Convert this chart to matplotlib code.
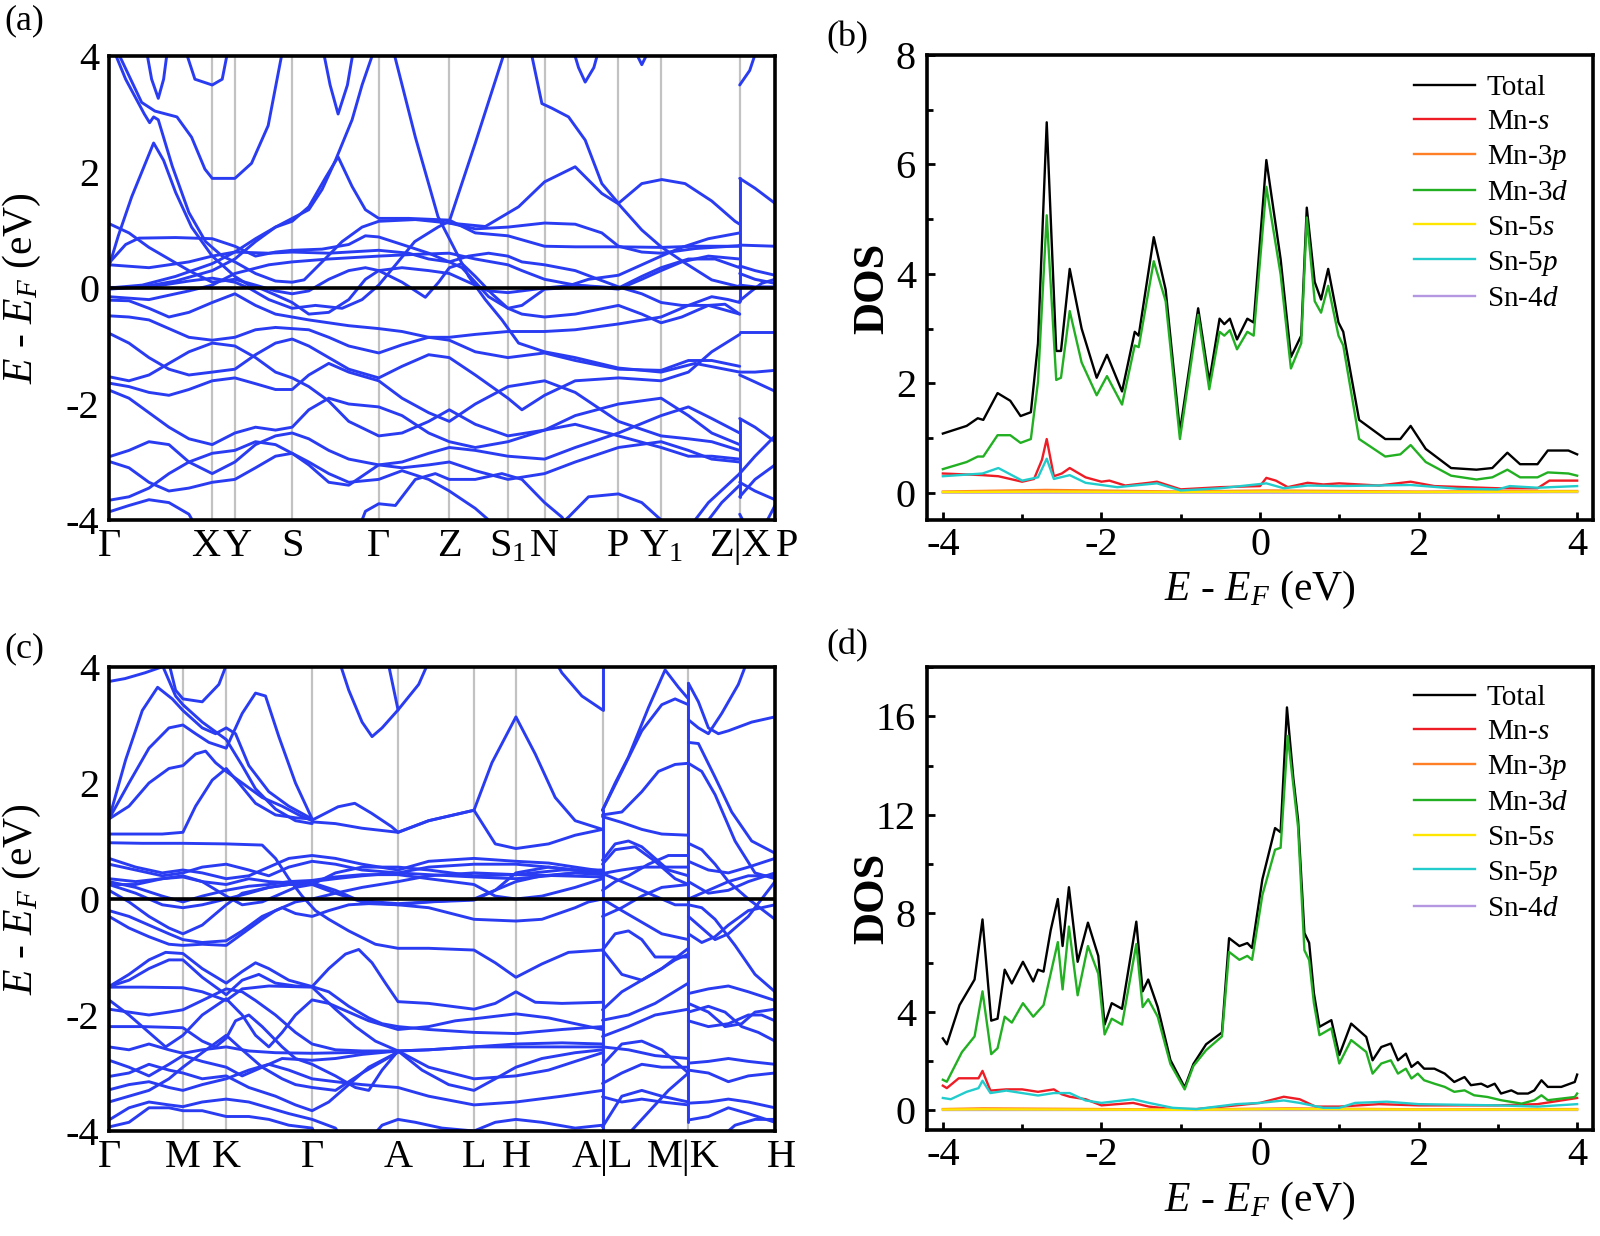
import matplotlib.pyplot as plt
import matplotlib.transforms as mtransforms
from matplotlib.ticker import MultipleLocator

plt.rcParams['font.family'] = 'Liberation Serif'
plt.rcParams['mathtext.fontset'] = 'custom'
plt.rcParams['mathtext.rm'] = 'Liberation Serif'
plt.rcParams['mathtext.it'] = 'Liberation Serif:italic'
plt.rcParams['mathtext.bf'] = 'Liberation Serif:bold'
plt.rcParams['axes.unicode_minus'] = False

BLUE = '#2a3cf2'

# ---------------- (a) band structure, k in % of path, E in eV ----------------
A_TICKS = [0, 15.5, 18.9, 27.5, 40.5, 51.1, 59.9, 65.4, 76.5, 82.9, 94.7, 100]
A_LABELS = ['Γ', 'X', 'Y', 'S', 'Γ', 'Z', r'S$_1$', 'N', 'P', r'Y$_1$', 'Z|X', 'P']
A_BANDS = [
    [(0, 4.4), (1.6, 4.0), (4.9, 3.2), (6.9, 3.05), (10.2, 2.95), (12.4, 2.6), (14.4, 2.05), (15.5, 1.89),
     (18.9, 1.89), (21.4, 2.15), (23.9, 2.8), (25.9, 4.0), (26.5, 4.4)],
    [(5.3, 4.3), (6.4, 3.6), (7.4, 3.27), (8.2, 3.6), (9.0, 4.3)],
    [(10.9, 4.3), (12.9, 3.6), (15.5, 3.5), (17.0, 3.6), (18.2, 4.3)],
    [(31.8, 4.3), (33.2, 3.5), (34.4, 3.0), (35.8, 3.5), (37.0, 4.3)],
    [(69.2, 4.3), (70.5, 3.8), (71.5, 3.55), (72.8, 3.8), (74.0, 4.3)],
    [(78.5, 4.2), (80.0, 3.85), (81.5, 4.2)],
    [(0, 4.3), (2.5, 3.6), (5.3, 3.0), (6.1, 2.85), (6.7, 2.95), (7.4, 2.9), (9.5, 2.1), (12, 1.3), (14.5, 0.8),
     (17, 0.55), (18.9, 0.45), (22, 0.25), (25, 0.12), (27.5, 0.1), (29.3, 0.14), (32, 0.45), (35, 0.8),
     (38, 1.05), (40.5, 1.15), (46, 1.18), (51.1, 1.12), (55, 1.02), (59.9, 1.05), (65.4, 1.12), (70, 1.1),
     (74, 0.95), (76.5, 0.72), (80, 0.62), (82.9, 0.6), (88, 0.68), (94.7, 0.73)],
    [(0, 0.37), (1.4, 0.9), (3.4, 1.57), (6.7, 2.5), (8.2, 2.2), (10, 1.65), (12.4, 1.05), (15.5, 0.55),
     (18.9, 0.2), (21, 0.05), (23, -0.02), (25, -0.12), (27.5, -0.25), (30, -0.45), (33, -0.42), (36, -0.2),
     (38.5, 0.15), (40.5, 0.3), (44, 0.1), (47.5, -0.16), (49.5, 0.1), (51.1, 0.35), (53, 0.42), (55, 0.2),
     (57.5, -0.1), (59.9, -0.35), (62, -0.45), (65.4, -0.5), (70, -0.45), (76.5, -0.3), (80, -0.45),
     (82.9, -0.6), (86, -0.5), (90, -0.3), (92.5, -0.28), (94.7, -0.45)],
    [(42.2, 4.4), (42.9, 4.0), (46, 2.6), (49.4, 1.23), (51.1, 0.85), (54, 0.2), (56.5, -0.2), (59, -0.55),
     (61.5, -0.95), (65.4, -1.1), (70, -1.2), (76.5, -1.38), (82.9, -1.45), (88, -1.3), (94.7, -1.45)],
    [(59.9, 4.4), (59.2, 4.0), (55, 2.5), (51.1, 1.15), (49.4, 1.05), (45.9, 0.8), (43.4, 0.45), (40.5, 0.05),
     (38, -0.2), (35, -0.35), (31, -0.3), (27.5, -0.35), (24, -0.2), (21, 0.0), (18.9, 0.1), (15.5, 0.17),
     (12, 0.12), (8, 0.05), (4, 0.01), (0, 0.01)],
    [(63, 4.4), (63.5, 4.0), (65, 3.18), (66.5, 3.1), (69, 2.95), (71.5, 2.55), (74, 1.8), (76.5, 1.46),
     (80, 1.8), (83, 1.87), (86.5, 1.8), (90.5, 1.5), (94, 1.15), (94.7, 1.1)],
    [(51.1, 1.12), (56.5, 1.06), (61.5, 1.4), (65.4, 1.83), (70, 2.09), (74, 1.63), (76.5, 1.45), (80, 1.0),
     (82.9, 0.71), (86.5, 0.43), (90.5, 0.14), (94.7, 0.02)],
    [(0, 0.0), (5, 0.05), (10, 0.2), (15.5, 0.42), (18.9, 0.62), (22, 0.85), (25, 1.05), (27.5, 1.15),
     (30, 1.4), (32.5, 1.9), (34.4, 2.26), (36.5, 1.75), (38.5, 1.35), (40.5, 1.2), (45, 1.2), (51.1, 1.17),
     (55, 0.95), (59.9, 0.9), (65.4, 0.72), (70, 0.71), (76.5, 0.71), (82.9, 0.7), (88, 0.72), (94.7, 0.72)],
    [(0, -0.02), (5, 0.02), (10, 0.12), (15.5, 0.3), (18.9, 0.5), (22, 0.8), (25, 1.05), (27.5, 1.2),
     (30, 1.35), (32, 1.7), (34, 2.2), (36.5, 2.9), (38, 3.5), (39.5, 4.0), (40, 4.4)],
    [(0, 0.43), (2.5, 0.75), (4.5, 0.86), (10, 0.87), (15.5, 0.85), (18.9, 0.72), (22, 0.55), (25, 0.62),
     (27.5, 0.65), (32, 0.67), (36, 0.75), (38.5, 0.9), (40.5, 0.88), (44, 0.75), (48, 0.6), (51.1, 0.45),
     (53, 0.35), (55, 0.1), (57, -0.15), (59.9, -0.35), (62, -0.3), (65.4, -0.02), (68, 0.0), (72, 0.15),
     (76.5, 0.22), (80, 0.4), (82.9, 0.55), (86, 0.7), (90, 0.85), (94.7, 0.95)],
    [(0, 1.11), (3, 0.95), (6, 0.7), (9, 0.5), (12, 0.3), (15.5, 0.1), (18.9, 0.15), (22, 0.05), (25, -0.05),
     (27.5, -0.1), (30, -0.05), (33, 0.15), (36, 0.3), (38.5, 0.35), (40.5, 0.3), (44, 0.35), (48, 0.3),
     (51.1, 0.25), (54, 0.1), (57, -0.05), (59.9, -0.08), (62, -0.05), (65.4, 0.0), (70, 0.05), (76.5, 0.0),
     (80, 0.2), (82.9, 0.35), (87, 0.5), (91, 0.5), (94.7, 0.35)],
    [(0, -0.21), (3, -0.22), (6, -0.35), (9, -0.5), (12, -0.42), (15.5, -0.25), (18.9, -0.1), (22, -0.3),
     (25, -0.45), (27.5, -0.5), (30, -0.55), (33, -0.6), (36, -0.65), (40.5, -0.7), (44, -0.75), (48, -0.85),
     (51.1, -0.85), (55, -0.8), (59.9, -0.75), (65.4, -0.75), (70, -0.72), (76.5, -0.62), (82.9, -0.5),
     (87, -0.3), (90.5, -0.15), (93, -0.2), (94.7, -0.25)],
    [(0, -0.48), (3, -0.5), (6, -0.55), (9, -0.7), (12, -0.85), (15.5, -0.9), (18.9, -0.85), (22, -0.72),
     (25, -0.68), (27.5, -0.7), (30, -0.72), (33, -0.85), (36, -1.0), (40.5, -1.12), (44, -0.98), (48, -0.85),
     (51.1, -0.9), (55, -1.1), (59.9, -1.2), (65.4, -1.12), (70, -1.25), (76.5, -1.4), (82.9, -1.42),
     (87, -1.25), (90.5, -1.25), (94.7, -1.35)],
    [(0, -0.78), (3, -0.95), (6, -1.2), (9, -1.4), (12, -1.5), (15.5, -1.45), (18.9, -1.4), (22, -1.15),
     (25, -0.95), (27.5, -0.88), (30, -1.0), (33, -1.2), (36, -1.4), (40.5, -1.55), (44, -1.35), (48, -1.15),
     (51.1, -1.2), (55, -1.5), (59.9, -1.9), (62, -2.1), (65.4, -1.85), (70, -1.6), (76.5, -1.55),
     (82.9, -1.6), (87, -1.45), (90.5, -1.1), (94.7, -0.8)],
    [(0, -1.53), (3, -1.6), (6, -1.5), (9, -1.3), (12, -1.1), (15.5, -0.95), (18.9, -1.0), (22, -1.2),
     (25, -1.45), (27.5, -1.55), (30, -1.7), (33, -1.95), (36, -2.3), (40.5, -2.55), (44, -2.5), (48, -2.3),
     (51.1, -2.1), (55, -2.35), (59.9, -2.55), (65.4, -2.45), (70, -2.2), (76.5, -2.0), (82.9, -1.9),
     (87, -2.2), (90.5, -2.5), (94.7, -2.7)],
    [(0, -1.64), (3, -1.7), (6, -1.8), (9, -1.85), (12, -1.75), (15.5, -1.6), (18.9, -1.55), (22, -1.65),
     (25, -1.75), (27.5, -1.75), (30, -1.5), (33, -1.3), (36, -1.45), (40.5, -1.6), (44, -1.9), (48, -2.15),
     (51.1, -2.3), (55, -2.0), (59.9, -1.7), (65.4, -1.6), (70, -1.8), (76.5, -2.3), (82.9, -2.55),
     (87, -2.6), (90.5, -2.65), (94.7, -2.8)],
    [(0, -1.76), (3, -1.9), (6, -2.15), (9, -2.4), (12, -2.6), (15.5, -2.7), (18.9, -2.5), (22, -2.4),
     (25, -2.45), (27.5, -2.4), (30, -2.1), (33, -1.9), (36, -2.0), (40.5, -2.05), (44, -2.2), (48, -2.5),
     (51.1, -2.65), (55, -2.75), (59.9, -2.65), (65.4, -2.45), (70, -2.35), (76.5, -2.55), (82.9, -2.75),
     (87, -2.9), (90.5, -2.9), (94.7, -2.95)],
    [(0, -2.91), (3, -2.8), (6, -2.65), (9, -2.7), (12, -3.0), (15.5, -3.2), (18.9, -3.0), (22, -2.7),
     (25, -2.55), (27.5, -2.5), (30, -2.6), (33, -2.8), (36, -2.95), (40.5, -3.05), (44, -3.0), (48, -2.85),
     (51.1, -2.75), (55, -2.8), (59.9, -2.9), (65.4, -2.95), (70, -2.75), (76.5, -2.5), (82.9, -2.2),
     (87, -2.05), (90.5, -2.25), (94.7, -2.5)],
    [(0, -2.99), (3, -3.1), (6, -3.35), (9, -3.5), (12, -3.45), (15.5, -3.35), (18.9, -3.3), (22, -3.1),
     (25, -2.9), (27.5, -2.85), (30, -3.05), (33, -3.35), (36, -3.4), (40.5, -3.05), (44, -3.1), (48, -3.05),
     (51.1, -3.0), (55, -3.15), (59.9, -3.3), (65.4, -3.2), (70, -3.0), (76.5, -2.75), (82.9, -2.65),
     (87, -2.8), (90.5, -2.95), (94.7, -3.0)],
    [(0, -3.66), (3, -3.6), (6, -3.45), (9, -3.2), (12, -3.0), (15.5, -2.85), (18.9, -2.8), (22, -2.65),
     (25, -2.7), (27.5, -2.85), (30, -3.0), (33, -3.2), (36, -3.35), (40.5, -3.3), (44, -3.15), (48, -3.3),
     (51.1, -3.5), (55, -3.8), (58, -4.1), (60, -4.5)],
    [(0, -3.86), (3, -3.75), (6, -3.65), (9, -3.7), (12, -3.9), (14, -4.3)],
    [(37, -4.3), (38.5, -3.85), (40.5, -3.72), (43, -3.75), (46, -3.3), (49, -3.2), (51.1, -3.3), (55, -3.3),
     (59, -3.2), (62, -3.3), (65.4, -3.7), (68, -3.95), (70, -4.3)],
    [(65.4, -4.3), (69, -3.95), (72, -3.6), (76.5, -3.55), (80, -3.7), (82.9, -4.0), (84, -4.3)],
    [(86, -4.3), (90, -3.7), (94.7, -3.2)],
    [(88, -4.3), (92, -3.7), (94.7, -3.4)],
    [(0, -0.15), (6, -0.2), (12, -0.05), (15.5, 0.05), (18.9, 0.25), (24, 0.4), (27.5, 0.45), (33, 0.5),
     (40.5, 0.55), (46, 0.58), (51.1, 0.6), (55, 0.5), (59.9, 0.4), (62, 0.3), (65.4, 0.15), (70, 0.05),
     (76.5, -0.02), (80, 0.15), (82.9, 0.3), (86, 0.45), (90, 0.55), (94.7, 0.5)],
    [(0, 0.4), (6, 0.35), (12, 0.45), (15.5, 0.55), (18.9, 0.62), (24, 0.6), (27.5, 0.62), (33, 0.6),
     (40.5, 0.65), (45, 0.6), (48, 0.5), (51.1, 0.45), (54, 0.55), (57, 0.6), (59.9, 0.55), (62, 0.45),
     (65.4, 0.4), (70, 0.3), (76.5, 0.02), (80, -0.1), (82.9, -0.25), (86, -0.3), (90, -0.3), (94.7, -0.45)],
    # Z|X - P segment
    [(94.7, 3.5), (96.2, 3.75), (97.8, 4.3)],
    [(94.7, 1.89), (97, 1.72), (100, 1.46)],
    [(94.7, 1.89), (94.7, -0.22)],
    [(94.7, 0.74), (100, 0.72)],
    [(94.7, 0.38), (97, 0.3), (100, 0.22)],
    [(94.7, 0.25), (97, 0.15), (100, 0.08)],
    [(94.7, -0.22), (96.5, -0.05), (98, 0.08), (100, 0.15)],
    [(94.7, 0.05), (97, 0.02), (100, 0.02)],
    [(94.7, -0.75), (100, -0.75)],
    [(94.7, -1.45), (97, -1.45), (100, -1.42)],
    [(94.7, -1.5), (97, -1.62), (100, -1.78)],
    [(94.7, -2.25), (97, -2.4), (100, -2.65)],
    [(94.7, -2.25), (94.7, -3.6)],
    [(94.7, -3.2), (97, -2.9), (100, -2.55)],
    [(94.7, -3.6), (97, -3.3), (100, -3.05)],
    [(94.7, -3.35), (97, -3.5), (100, -3.65)],
    [(94.7, -3.9), (96.5, -4.3)],
    [(97.5, -4.3), (100, -3.75)],
]

# ---------------- (c) band structure ----------------
C_TICKS = [0, 11.1, 17.6, 30.5, 43.4, 54.8, 61.1, 74.1, 87.0, 100]
C_LABELS = ['Γ', 'M', 'K', 'Γ', 'A', 'L', 'H', 'A|L', 'M|K', 'H']
C_BANDS = [
    [(0, 3.75), (2.4, 3.8), (5.4, 3.9), (7.9, 4.0), (9.5, 4.3)],
    [(8.5, 4.3), (10, 3.6), (11.1, 3.45), (14, 3.4), (16.5, 3.7), (18.5, 4.3)],
    [(0, 1.38), (2.5, 2.4), (5, 3.25), (7.3, 3.65), (9.5, 3.45), (11.1, 3.25), (14, 2.95), (16, 2.85),
     (17.6, 2.95), (19, 2.85), (21, 2.3), (24, 1.85), (27, 1.6), (30.5, 1.38)],
    [(0, 1.38), (3, 2.0), (6, 2.6), (9, 2.95), (11.1, 3.0), (13, 2.85), (15, 2.7), (17.6, 2.6), (20, 3.2),
     (22, 3.55), (23.5, 3.5), (25.5, 2.8), (28, 2.0), (30.5, 1.38)],
    [(0, 1.38), (3, 1.6), (6, 2.0), (9, 2.25), (11.1, 2.3), (13, 2.5), (14.5, 2.55), (16, 2.35), (17.6, 2.2),
     (20, 2.0), (23, 1.75), (26, 1.6), (28.5, 1.45), (30.5, 1.35)],
    [(0, 1.12), (4, 1.12), (8, 1.12), (11.1, 1.15), (13, 1.6), (15.5, 2.05), (17.6, 2.25), (19.5, 2.0),
     (22, 1.65), (25, 1.45), (28, 1.4), (30.5, 1.38)],
    [(7, 4.3), (10, 3.5), (11.1, 3.35), (14, 3.05), (17.6, 2.75), (20, 2.3), (22, 1.9), (25, 1.55),
     (28, 1.35), (30.5, 1.3)],
    [(0, 0.97), (5, 0.96), (11.1, 0.96), (17.6, 0.95), (23, 0.93), (25, 0.7), (27, 0.35), (29, 0.05),
     (31, -0.2), (33, -0.35), (36, -0.55), (40, -0.78), (43.4, -0.85), (48, -0.85), (54.8, -0.88),
     (58, -1.1), (61.1, -1.35), (65, -1.12), (69, -0.92), (74.1, -0.88)],
    [(30.5, 1.36), (34.4, 1.59), (36.9, 1.65), (39.4, 1.48), (42.4, 1.25), (43.4, 1.15)],
    [(30.5, 1.33), (34, 1.3), (38, 1.22), (43.4, 1.15), (48, 1.35), (54.8, 1.53), (58, 0.95), (61.1, 0.87),
     (66, 0.95), (70, 1.1), (74.1, 1.2)],
    [(43.4, 1.15), (48, 1.35), (54.8, 1.53), (57.5, 2.35), (61.1, 3.14), (64, 2.5), (67, 1.75), (70, 1.35),
     (74.1, 1.2)],
    [(34, 4.3), (36, 3.6), (38, 3.05), (39.5, 2.8), (41, 2.95), (43.4, 3.26)],
    [(41.5, 4.3), (43.4, 3.26), (46.5, 3.7), (48.8, 4.3)],
    [(66, 4.3), (68, 3.9), (71, 3.5), (74.1, 3.26)],
    # around the Fermi level
    [(0, 0.7), (4, 0.55), (8, 0.45), (11.1, 0.5), (14, 0.45), (17.6, 0.35), (21, 0.4), (24, 0.55), (27, 0.7),
     (30.5, 0.75), (34, 0.7), (38, 0.6), (43.4, 0.5), (48, 0.65), (54.8, 0.7), (61.1, 0.65), (66, 0.62),
     (70, 0.55), (74.1, 0.48)],
    [(0, 0.6), (4, 0.5), (8, 0.4), (11.1, 0.45), (14, 0.55), (17.6, 0.6), (21, 0.5), (24, 0.4), (27, 0.55),
     (30.5, 0.65), (34, 0.6), (38, 0.5), (43.4, 0.45), (48, 0.55), (54.8, 0.6), (61.1, 0.6), (66, 0.55),
     (70, 0.5), (74.1, 0.45)],
    [(0, 0.35), (4, 0.3), (8, 0.35), (11.1, 0.38), (14, 0.3), (17.6, 0.25), (21, 0.35), (24, 0.3), (27, 0.28),
     (30.5, 0.3), (34, 0.35), (38, 0.4), (43.4, 0.45), (48, 0.42), (54.8, 0.38), (61.1, 0.35), (66, 0.4),
     (70, 0.45), (74.1, 0.45)],
    [(0, 0.3), (4, 0.2), (8, 0.05), (11.1, -0.05), (14, 0.05), (17.6, 0.15), (21, 0.22), (24, 0.25), (27, 0.3),
     (30.5, 0.32), (34, 0.38), (38, 0.42), (43.4, 0.42), (48, 0.35), (54.8, 0.25), (58, 0.05), (61.1, 0.0),
     (65, 0.05), (70, 0.2), (74.1, 0.35)],
    [(0, 0.25), (4, 0.1), (8, -0.1), (11.1, -0.15), (14, -0.1), (17.6, 0.0), (21, 0.1), (24, 0.2), (27, 0.25),
     (30.5, 0.28), (34, 0.15), (37, 0.0), (40, -0.05), (43.4, -0.08), (48, -0.05), (54.8, 0.0), (61.1, 0.3),
     (65, 0.4), (70, 0.45), (74.1, 0.42)],
    [(0, 0.15), (3, -0.05), (6, -0.3), (9, -0.5), (11.1, -0.6), (14, -0.45), (17.6, -0.1), (20, 0.1),
     (24, 0.2), (27, 0.25), (30.5, 0.25), (34, 0.1), (38, -0.05), (43.4, -0.1), (48, -0.15), (54.8, -0.35),
     (61.1, -0.38), (65, -0.35), (70, -0.15), (72, -0.05), (74.1, 0.0)],
    [(0, -0.2), (3, -0.3), (6, -0.45), (9, -0.6), (11.1, -0.7), (14, -0.75), (17.6, -0.72), (20, -0.55),
     (23, -0.3), (26, -0.15), (28, -0.25), (30.5, -0.3), (33, -0.2), (36, -0.1), (39, -0.08), (43.4, -0.1),
     (48, -0.05), (54.8, -0.02), (58, 0.15), (61.1, 0.45), (66, 0.55), (70, 0.5), (74.1, 0.45)],
    [(0, -0.3), (3, -0.5), (6, -0.65), (9, -0.78), (11.1, -0.8), (14, -0.78), (17.6, -0.8), (20, -0.6),
     (23, -0.35), (25, -0.2), (28, -0.05), (30.5, 0.0), (34, 0.1), (38, 0.2), (43.4, 0.3), (48, 0.4),
     (54.8, 0.45), (61.1, 0.42), (68, 0.4), (74.1, 0.38)],
    [(0, 0.25), (4, 0.25), (8, 0.35), (11.1, 0.4), (14, 0.3), (17.6, 0.05), (20, -0.1), (23, -0.05),
     (26, 0.1), (28, 0.2), (30.5, 0.25), (34, 0.45), (38, 0.55), (43.4, 0.55), (48, 0.5), (54.8, 0.4),
     (61.1, 0.42), (68, 0.5), (74.1, 0.5)],
    # valence region
    [(0, -1.51), (3, -1.3), (6, -1.05), (8.5, -0.92), (11.1, -0.94), (14, -1.2), (17.6, -1.45), (20, -1.25),
     (22, -1.1), (24, -1.2), (27, -1.4), (30.5, -1.51), (33, -1.2), (35.5, -0.95), (37.5, -0.87),
     (39.5, -1.1), (41.5, -1.45), (43.4, -1.77), (48, -1.8), (54.8, -1.9), (58, -1.8), (61.1, -1.6),
     (64, -1.78), (68, -1.8), (74.1, -1.78)],
    [(0, -1.51), (3, -1.4), (6, -1.2), (9, -1.05), (11.1, -1.05), (14, -1.35), (17.6, -1.65), (20, -1.4),
     (22.5, -1.3), (25, -1.45), (28, -1.5), (30.5, -1.51), (33, -1.6), (36, -1.85), (39, -2.05), (41, -2.15),
     (43.4, -2.2), (48, -2.25), (54.8, -2.3), (61.1, -2.32), (68, -2.25), (74.1, -2.2)],
    [(0, -1.52), (5, -1.52), (11.1, -1.53), (14, -1.6), (17.6, -1.75), (20, -1.55), (24, -1.5), (30.5, -1.52),
     (34, -1.9), (37, -2.2), (40, -2.45), (43.4, -2.62), (48, -2.6), (54.8, -2.55), (61.1, -2.55),
     (68, -2.55), (74.1, -2.55)],
    [(0, -1.74), (3, -2.0), (6, -2.3), (8.5, -2.55), (11.1, -2.35), (14, -2.0), (17.6, -1.72), (20, -2.0),
     (22, -2.35), (24, -2.55), (26, -2.3), (28, -2.0), (30.5, -1.74), (33, -1.8), (36, -1.95), (39, -2.1),
     (43.4, -2.25), (48, -2.2), (52, -2.1), (56, -2.05), (61.1, -1.98), (66, -2.05), (70, -2.15),
     (74.1, -2.25)],
    [(0, -2.2), (5, -2.2), (11.1, -2.22), (14, -2.45), (16, -2.55), (17.6, -2.4), (19, -2.1), (21, -2.0),
     (23, -2.2), (26, -2.55), (28, -2.75), (30.5, -2.85), (34, -3.05), (37, -3.25), (39, -3.3), (41, -2.95),
     (43.4, -2.62), (47, -2.95), (51, -3.2), (54.8, -3.3), (58, -3.1), (61.1, -2.9), (65, -2.75),
     (70, -2.65), (74.1, -2.6)],
    [(0, -2.55), (3, -2.6), (6, -2.5), (9, -2.6), (11.1, -2.66), (14, -2.6), (17.6, -2.55), (21, -2.62),
     (25, -2.65), (30.5, -2.66), (35, -2.65), (40, -2.64), (43.4, -2.62), (48, -2.6), (54.8, -2.55),
     (61.1, -2.5), (68, -2.48), (74.1, -2.5)],
    [(0, -2.78), (3, -2.9), (6, -3.05), (9, -2.85), (11.1, -2.7), (14, -2.8), (17.6, -2.9), (20, -3.05),
     (23, -2.9), (26, -2.75), (30.5, -2.78), (34, -2.75), (38, -2.68), (43.4, -2.62), (48, -2.9),
     (54.8, -3.1), (61.1, -3.05), (66, -2.95), (70, -2.8), (74.1, -2.65)],
    [(0, -3.06), (3, -3.0), (6, -2.85), (9, -2.95), (11.1, -3.0), (14, -3.1), (17.6, -3.05), (21, -3.25),
     (25, -3.4), (28, -3.55), (30.5, -3.65), (33, -3.5), (36, -3.2), (39, -2.9), (43.4, -2.64)],
    [(0, -3.29), (3, -3.2), (6, -3.15), (9, -3.25), (11.1, -3.3), (14, -3.2), (17.6, -3.1), (21, -2.95),
     (24, -2.85), (27, -2.95), (30.5, -3.1), (34, -3.15), (38, -3.2), (43.4, -3.25), (48, -3.4),
     (54.8, -3.55), (61.1, -3.5), (68, -3.4), (74.1, -3.3)],
    [(0, -3.81), (3, -3.6), (6, -3.5), (9, -3.55), (11.1, -3.58), (14, -3.5), (17.6, -3.45), (21, -3.5),
     (24, -3.6), (27, -3.7), (30.5, -3.8), (34, -3.95), (36, -4.3)],
    [(0, -3.93), (3, -3.85), (6, -3.6), (9, -3.6), (11.1, -3.65), (14, -3.65), (17.6, -3.75), (21, -3.75),
     (24, -3.8), (27, -3.9), (30.5, -3.95), (32, -4.3)],
    [(38, -4.3), (41, -3.9), (43.4, -3.8), (46, -3.85), (50, -3.95), (54.8, -4.0), (58, -3.85),
     (61.1, -3.8), (65, -3.85), (70, -3.95), (74.1, -3.9)],
    [(0, -1.9), (3, -1.95), (6, -2.0), (9, -1.95), (11.1, -1.91), (14, -1.75), (17.6, -1.55), (20, -1.6),
     (22, -1.75), (25, -2.0), (28, -2.3), (30.5, -2.5), (34, -2.6), (38, -2.62), (43.4, -2.62)],
    [(0, -3.5), (3, -3.4), (6, -3.3), (9, -3.1), (11.1, -2.9), (14, -2.65), (17.6, -2.35), (20, -2.6),
     (23, -2.9), (26, -3.1), (28, -3.2), (30.5, -3.25), (34, -3.3), (38, -3.0), (43.4, -2.64)],
    # A|L - M|K segment
    [(74.1, 1.53), (76, 2.0), (78, 2.45), (81, 3.3), (83.5, 3.95), (85.5, 3.65), (87.0, 3.45)],
    [(74.1, 1.53), (77, 2.2), (80, 2.9), (83, 3.35), (85, 3.45), (87.0, 3.35)],
    [(74.1, 1.45), (77, 1.5), (80, 1.85), (82.5, 2.2), (85, 2.32), (87.0, 2.34)],
    [(74.1, 1.42), (77, 1.32), (80, 1.2), (83, 1.12), (87.0, 1.1)],
    [(74.1, 0.67), (76, 0.95), (78, 1.0), (80, 0.9), (82, 0.7), (84, 0.5), (87.0, 0.4)],
    [(74.1, 0.6), (76, 0.85), (79, 0.9), (82, 0.65), (85, 0.35), (87.0, 0.25)],
    [(74.1, 0.44), (77, 0.5), (80, 0.55), (83, 0.55), (87.0, 0.55)],
    [(74.1, 0.44), (77, 0.3), (80, 0.15), (83, 0.0), (85, -0.1), (87.0, -0.1)],
    [(74.1, 0.15), (76, 0.3), (78, 0.4), (81, 0.6), (84, 0.75), (87.0, 0.75)],
    [(74.1, 0.0), (77, -0.2), (80, -0.4), (83, -0.6), (85, -0.65), (87.0, -0.7)],
    [(74.1, -0.3), (77, -0.15), (80, 0.05), (83, 0.2), (87.0, 0.25)],
    [(74.1, -0.88), (76, -0.6), (78, -0.55), (80, -0.7), (82, -1.0), (84, -1.0), (87.0, -1.0)],
    [(74.1, -0.88), (77, -1.3), (80, -1.4), (83, -1.2), (85, -1.05), (87.0, -0.95)],
    [(74.1, -1.91), (77, -1.6), (80, -1.4), (83, -1.2), (87.0, -0.85)],
    [(74.1, -2.09), (78, -2.0), (82, -1.8), (87.0, -1.45)],
    [(74.1, -2.37), (78, -2.2), (82, -2.0), (87.0, -1.9)],
    [(74.1, -2.55), (78, -2.6), (82, -2.7), (87.0, -2.75)],
    [(74.1, -2.86), (77, -2.5), (80, -2.45), (83, -2.6), (87.0, -3.0)],
    [(74.1, -3.18), (77, -3.0), (80, -2.85), (83, -2.9), (87.0, -2.9)],
    [(74.1, -3.41), (77, -3.5), (80, -3.45), (83, -3.5), (87.0, -3.55)],
    [(74.1, -3.93), (77, -3.4), (80, -3.3), (83, -3.4), (87.0, -3.5)],
    [(76, -4.3), (80, -3.8), (84, -3.3), (87.0, -3.0)],
    # M|K - H segment
    [(87.0, 3.72), (88.5, 3.4), (90, 2.95), (91.5, 2.85), (93, 2.9), (96.5, 3.05), (100, 3.14)],
    [(87.0, 3.09), (88.5, 2.95), (90, 2.85), (92, 3.2), (94.5, 3.7), (96.5, 4.3)],
    [(87.0, 2.7), (88.5, 2.68), (91, 2.1), (93.5, 1.5), (96.5, 1.0), (100, 0.79)],
    [(87.0, 2.34), (89, 2.2), (91, 1.8), (94, 1.0), (97, 0.45), (100, 0.35)],
    [(87.0, 0.96), (89, 0.85), (91, 0.6), (93, 0.3), (96, 0.0), (100, -0.35)],
    [(87.0, 0.65), (90, 0.5), (93, 0.45), (96, 0.55), (100, 0.7)],
    [(87.0, 0.3), (90, 0.1), (93, 0.15), (96, 0.3), (100, 0.45)],
    [(87.0, 0.0), (90, 0.15), (93, 0.3), (96, 0.4), (100, 0.4)],
    [(87.0, -0.1), (89, -0.15), (91, -0.35), (94, -0.8), (97, -1.3), (100, -1.6)],
    [(87.0, -0.3), (89, -0.5), (91, -0.7), (93, -0.6), (96, -0.3), (100, 0.3)],
    [(87.0, -0.6), (89, -0.75), (91, -0.65), (93, -0.45), (96, -0.2), (100, -0.1)],
    [(87.0, -1.63), (90, -1.55), (93, -1.5), (96, -1.6), (100, -1.75)],
    [(87.0, -1.8), (90, -1.95), (92.5, -2.2), (95, -2.15), (97, -1.95), (100, -1.9)],
    [(87.0, -1.95), (90, -1.85), (92.5, -1.95), (95, -2.2), (97.5, -2.3), (100, -2.45)],
    [(87.0, -2.1), (90, -2.2), (93, -2.15), (96, -2.0), (98, -2.0), (100, -2.1)],
    [(87.0, -2.83), (90, -2.8), (93, -2.75), (96, -2.8), (100, -2.85)],
    [(87.0, -2.95), (90, -3.0), (93, -3.15), (96, -3.05), (100, -3.0)],
    [(87.0, -3.52), (90, -3.5), (93, -3.45), (96, -3.5), (100, -3.6)],
    [(87.0, -3.81), (90, -3.75), (93, -3.6), (96, -3.7), (100, -3.85)],
    [(90, -4.3), (94, -3.9), (97, -3.8), (100, -3.8)],
    # jumps at the path breaks
    [(74.1, 4.3), (74.1, 3.26)],
    [(74.1, 1.53), (74.1, -4.3)],
    [(87.0, 3.72), (87.0, -3.85)],
]

# ---------------- (b) DOS ----------------
B_E_TOTAL = [-4.0, -3.7, -3.56, -3.49, -3.31, -3.15, -3.02, -2.89, -2.8, -2.69, -2.57, -2.51, -2.4, -2.25,
             -2.06, -1.93, -1.74, -1.58, -1.53, -1.34, -1.19, -1.01, -0.78, -0.64, -0.51, -0.45, -0.38,
             -0.29, -0.16, -0.08, 0.08, 0.26, 0.39, 0.52, 0.59, 0.69, 0.77, 0.86, 0.99, 1.05, 1.25, 1.58,
             1.77, 1.9, 2.09, 2.41, 2.73, 2.93, 3.12, 3.28, 3.5, 3.63, 3.89, 4.0]
B_TOTAL = [1.08, 1.22, 1.36, 1.33, 1.82, 1.68, 1.40, 1.47, 2.73, 6.77, 2.59, 2.59, 4.09, 3.0, 2.10, 2.52,
           1.85, 2.94, 2.87, 4.67, 3.71, 1.12, 3.37, 2.03, 3.18, 3.08, 3.18, 2.80, 3.18, 3.11, 6.08, 4.27,
           2.48, 2.87, 5.21, 3.85, 3.53, 4.09, 3.11, 2.94, 1.33, 0.98, 0.98, 1.22, 0.80, 0.45, 0.42, 0.45,
           0.73, 0.52, 0.52, 0.77, 0.77, 0.70]
B_MN3D = [0.43, 0.56, 0.66, 0.66, 1.05, 1.05, 0.91, 0.98, 2.03, 5.07, 2.06, 2.1, 3.32, 2.38, 1.78, 2.13,
          1.61, 2.69, 2.66, 4.23, 3.50, 0.98, 3.25, 1.89, 2.94, 2.87, 2.97, 2.62, 2.94, 2.87, 5.59, 3.99,
          2.27, 2.73, 5.03, 3.50, 3.29, 3.78, 2.87, 2.69, 0.98, 0.66, 0.70, 0.87, 0.56, 0.31, 0.24, 0.28,
          0.42, 0.28, 0.28, 0.37, 0.35, 0.31]
B_E_MNS = [-4.0, -3.5, -3.3, -3.0, -2.85, -2.75, -2.69, -2.6, -2.5, -2.4, -2.2, -2.0, -1.9, -1.7, -1.4,
           -1.3, -1.0, -0.5, 0.0, 0.08, 0.2, 0.35, 0.6, 0.8, 1.0, 1.5, 1.9, 2.2, 3.0, 3.5, 3.65, 4.0]
B_MNS = [0.35, 0.32, 0.30, 0.20, 0.25, 0.6, 0.98, 0.30, 0.35, 0.45, 0.28, 0.20, 0.22, 0.13, 0.18, 0.20,
         0.06, 0.10, 0.12, 0.27, 0.22, 0.10, 0.18, 0.15, 0.17, 0.13, 0.20, 0.12, 0.08, 0.08, 0.22, 0.22]
B_E_SNP = [-4.0, -3.5, -3.3, -3.0, -2.8, -2.69, -2.6, -2.4, -2.2, -1.8, -1.3, -1.0, -0.5, 0.08, 0.3, 0.6,
           1.0, 1.9, 2.5, 3.0, 3.15, 3.5, 4.0]
B_SNP = [0.30, 0.35, 0.45, 0.22, 0.28, 0.62, 0.25, 0.32, 0.18, 0.10, 0.17, 0.04, 0.08, 0.17, 0.08, 0.13,
         0.12, 0.14, 0.07, 0.06, 0.12, 0.09, 0.12]
B_E_SMALL = [-4.0, -2.7, -1.0, 0.1, 2.0, 3.7, 4.0]
B_MN3P = [0.02, 0.05, 0.02, 0.04, 0.02, 0.03, 0.03]
B_SN5S = [0.01, 0.02, 0.01, 0.02, 0.01, 0.02, 0.02]
B_SN4D = [0.0, 0.0, 0.0, 0.0, 0.0, 0.01, 0.01]

# ---------------- (d) DOS ----------------
D_E_TOTAL = [-4.0, -3.95, -3.79, -3.6, -3.5, -3.39, -3.31, -3.22, -3.13, -2.99, -2.86, -2.8, -2.73, -2.64,
             -2.55, -2.49, -2.41, -2.3, -2.17, -2.04, -1.96, -1.87, -1.74, -1.56, -1.48, -1.41, -1.29,
             -1.13, -0.95, -0.84, -0.68, -0.48, -0.39, -0.26, -0.16, -0.1, 0.03, 0.19, 0.26, 0.34, 0.42,
             0.48, 0.56, 0.62, 0.68, 0.75, 0.90, 1.0, 1.15, 1.34, 1.42, 1.53, 1.65, 1.74, 1.84, 1.91, 1.99,
             2.07, 2.2, 2.33, 2.45, 2.58, 2.66, 2.79, 2.87, 2.96, 3.04, 3.17, 3.25, 3.38, 3.46, 3.55, 3.63,
             3.8, 3.97, 4.0]
D_TOTAL = [2.92, 2.68, 4.27, 5.31, 7.75, 3.64, 3.72, 5.71, 5.15, 6.03, 5.23, 5.71, 5.63, 7.31, 8.58, 6.67,
           9.06, 6.03, 7.62, 6.27, 3.48, 4.35, 4.12, 7.66, 4.83, 5.31, 4.19, 2.04, 0.93, 1.88, 2.68, 3.16,
           6.99, 6.67, 6.79, 6.59, 9.38, 11.46, 11.29, 16.36, 13.5, 11.8, 7.2, 6.8, 4.75, 3.39, 3.66, 2.24,
           3.52, 2.98, 2.03, 2.57, 2.71, 2.03, 2.30, 1.76, 1.96, 1.69, 1.69, 1.49, 1.15, 1.35, 1.02, 1.08,
           0.95, 1.08, 0.68, 0.81, 0.68, 0.68, 0.81, 1.22, 0.95, 0.95, 1.15, 1.45]
D_E_MN3D = [-4.0, -3.95, -3.76, -3.6, -3.5, -3.39, -3.31, -3.22, -3.13, -2.99, -2.86, -2.73, -2.55, -2.49,
            -2.41, -2.3, -2.17, -2.04, -1.96, -1.87, -1.74, -1.56, -1.48, -1.41, -1.29, -1.13, -0.95, -0.84,
            -0.68, -0.48, -0.39, -0.26, -0.16, -0.1, 0.03, 0.19, 0.26, 0.35, 0.48, 0.56, 0.62, 0.68, 0.75,
            0.90, 1.0, 1.15, 1.34, 1.42, 1.53, 1.65, 1.74, 1.84, 1.91, 1.99, 2.07, 2.2, 2.33, 2.45, 2.58,
            2.7, 2.87, 3.04, 3.3, 3.46, 3.55, 3.63, 3.97, 4.0]
D_MN3D = [1.24, 1.16, 2.36, 3.0, 4.83, 2.28, 2.52, 3.80, 3.56, 4.35, 3.80, 4.27, 6.83, 4.91, 7.46, 4.67,
          6.67, 5.55, 3.08, 3.72, 3.48, 6.75, 4.19, 4.51, 3.80, 1.88, 0.85, 1.80, 2.44, 3.0, 6.43, 6.11,
          6.27, 6.11, 8.74, 10.58, 10.66, 15.2, 11.5, 6.5, 6.1, 4.35, 3.05, 3.33, 1.9, 2.85, 2.37, 1.49,
          1.9, 2.03, 1.49, 1.69, 1.29, 1.49, 1.22, 1.08, 0.95, 0.75, 0.81, 0.61, 0.54, 0.41, 0.27, 0.41,
          0.61, 0.41, 0.54, 0.68]
D_E_MNS = [-4.0, -3.95, -3.8, -3.55, -3.5, -3.4, -3.2, -3.0, -2.8, -2.6, -2.5, -2.4, -2.2, -2.0, -1.6,
           -1.4, -1.1, -0.8, -0.3, 0.0, 0.3, 0.5, 0.7, 1.0, 1.5, 2.0, 2.5, 3.0, 3.5, 4.0]
D_MNS = [1.0, 0.9, 1.3, 1.3, 1.6, 0.8, 0.85, 0.85, 0.75, 0.85, 0.65, 0.55, 0.45, 0.2, 0.3, 0.15, 0.05,
         0.05, 0.2, 0.3, 0.55, 0.45, 0.15, 0.15, 0.25, 0.2, 0.2, 0.2, 0.25, 0.5]
D_E_SNP = [-4.0, -3.9, -3.7, -3.55, -3.5, -3.4, -3.2, -3.0, -2.8, -2.6, -2.4, -2.2, -2.0, -1.6, -1.4,
           -1.1, -0.8, -0.3, 0.0, 0.3, 0.5, 0.8, 1.0, 1.2, 1.6, 2.0, 3.0, 3.5, 4.0]
D_SNP = [0.5, 0.45, 0.75, 0.9, 1.2, 0.7, 0.8, 0.7, 0.6, 0.7, 0.7, 0.4, 0.3, 0.45, 0.3, 0.1, 0.05, 0.25,
         0.3, 0.4, 0.3, 0.1, 0.1, 0.3, 0.35, 0.25, 0.2, 0.15, 0.25]
D_E_SMALL = [-4.0, -3.5, -1.0, 0.35, 2.0, 4.0]
D_MN3P = [0.05, 0.08, 0.03, 0.08, 0.04, 0.05]
D_SN5S = [0.03, 0.04, 0.02, 0.05, 0.03, 0.03]
D_SN4D = [0.0, 0.0, 0.0, 0.0, 0.0, 0.0]

LEGEND_NAMES = ['Total', 'Mn-$s$', 'Mn-3$p$', 'Mn-3$d$', 'Sn-5$s$', 'Sn-5$p$', 'Sn-4$d$']
LEGEND_COLORS = ['black', '#ee1c25', '#ff7f27', '#22b022', '#ffe600', '#22cccc', '#b497e0']

XLABEL = r'$E$ - $E_F$ (eV)'


def draw_bands(ax, bands, ticks, labels, nudges):
    for line in bands:
        k = [p[0] for p in line]
        e = [p[1] for p in line]
        ax.plot(k, e, color=BLUE, lw=2.1, zorder=2, solid_capstyle='round')
    for t in ticks[1:-1]:
        ax.axvline(t, color='#c2c2c2', lw=1.6, zorder=1)
    ax.axhline(0, color='black', lw=2.6, zorder=4)
    ax.set_xlim(0, 100)
    ax.set_ylim(-4, 4)
    ax.set_xticks(ticks)
    ax.set_xticklabels(labels)
    ax.set_yticks([-4, -2, 0, 2, 4])
    ax.tick_params(axis='both', length=0, labelsize=29)
    ax.tick_params(axis='x', pad=6)
    ax.tick_params(axis='y', pad=7)
    for s in ax.spines.values():
        s.set_linewidth(2.6)
        s.set_zorder(5)
    # shift a few crowded labels sideways (pixels)
    for idx, dx in nudges.items():
        lab = ax.xaxis.get_major_ticks()[idx].label1
        lab.set_transform(lab.get_transform() +
                          mtransforms.ScaledTranslation(dx / 100.0, 0, ax.figure.dpi_scale_trans))


def draw_dos(ax, series, ylim, ymajor, legend_top):
    for (e, v), name, color in zip(series, LEGEND_NAMES, LEGEND_COLORS):
        z = 2 if name != 'Sn-4$d$' else 1
        ax.plot(e, v, color=color, lw=1.7, label=name, zorder=z)
    ax.set_xlim(-4.2, 4.2)
    ax.set_ylim(*ylim)
    ax.xaxis.set_major_locator(MultipleLocator(2))
    ax.xaxis.set_minor_locator(MultipleLocator(1))
    ax.yaxis.set_major_locator(MultipleLocator(ymajor))
    ax.yaxis.set_minor_locator(MultipleLocator(ymajor / 2))
    ax.tick_params(which='both', direction='in', width=2, top=False, right=False)
    ax.tick_params(which='major', length=6, labelsize=29)
    ax.tick_params(which='minor', length=4)
    ax.tick_params(axis='x', pad=5)
    ax.tick_params(axis='y', pad=8)
    for s in ax.spines.values():
        s.set_linewidth(2.6)
    ax.legend(loc='upper left', bbox_to_anchor=(0.731, legend_top), frameon=False, fontsize=21,
              handlelength=2.1, handletextpad=0.4, labelspacing=0.27, borderpad=0, borderaxespad=0)


fig = plt.figure(figsize=(16, 12.36), dpi=100)
W, H = 1600.0, 1236.0


def box(left, top, right, bottom):
    return [left / W, 1 - bottom / H, (right - left) / W, (bottom - top) / H]


ax_a = fig.add_axes(box(109, 56, 775, 520))
ax_b = fig.add_axes(box(927, 55, 1593, 520))
ax_c = fig.add_axes(box(109, 667, 775, 1131))
ax_d = fig.add_axes(box(927, 667, 1593, 1130))

draw_bands(ax_a, A_BANDS, A_TICKS, A_LABELS, {1: -7, 2: 2, 11: 12})
draw_bands(ax_c, C_BANDS, C_TICKS, C_LABELS, {8: -5, 9: 6})

b_series = [(B_E_TOTAL, B_TOTAL), (B_E_MNS, B_MNS), (B_E_SMALL, B_MN3P), (B_E_TOTAL, B_MN3D),
            (B_E_SMALL, B_SN5S), (B_E_SNP, B_SNP), (B_E_SMALL, B_SN4D)]
d_series = [(D_E_TOTAL, D_TOTAL), (D_E_MNS, D_MNS), (D_E_SMALL, D_MN3P), (D_E_MN3D, D_MN3D),
            (D_E_SMALL, D_SN5S), (D_E_SNP, D_SNP), (D_E_SMALL, D_SN4D)]
draw_dos(ax_b, b_series, (-0.5, 8), 2, 0.958)
draw_dos(ax_d, d_series, (-0.8, 18), 4, 0.962)

# axis titles
fig.text(22 / W, 1 - 288 / H, XLABEL, rotation=90, ha='center', va='center', fontsize=30)
fig.text(22 / W, 1 - 899 / H, XLABEL, rotation=90, ha='center', va='center', fontsize=30)
fig.text(872 / W, 1 - 288 / H, 'DOS', rotation=90, ha='center', va='center', fontsize=32,
         fontweight='bold')
fig.text(872 / W, 1 - 898 / H, 'DOS', rotation=90, ha='center', va='center', fontsize=32,
         fontweight='bold')
fig.text(1260 / W, 1 - 590 / H, XLABEL, ha='center', va='center', fontsize=30)
fig.text(1260 / W, 1 - 1201 / H, XLABEL, ha='center', va='center', fontsize=30)

# panel letters
fig.text(4 / W, 1 - 4 / H, '(a)', ha='left', va='top', fontsize=26)
fig.text(826 / W, 1 - 21 / H, '(b)', ha='left', va='top', fontsize=26)
fig.text(4 / W, 1 - 632 / H, '(c)', ha='left', va='top', fontsize=26)
fig.text(826 / W, 1 - 629 / H, '(d)', ha='left', va='top', fontsize=26)

fig.savefig('out.png', dpi=100)
